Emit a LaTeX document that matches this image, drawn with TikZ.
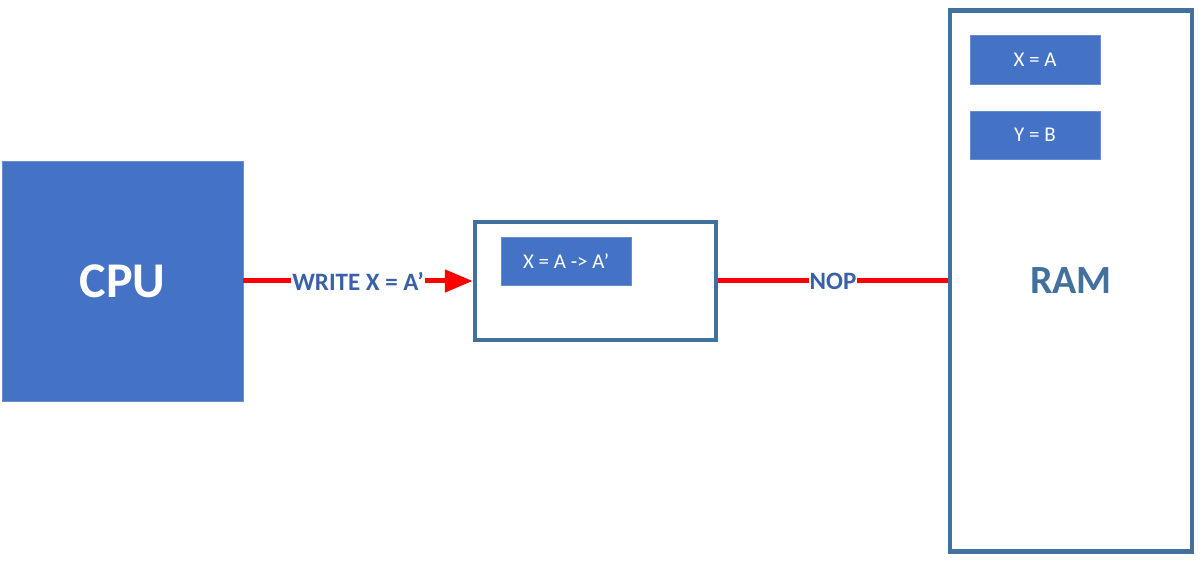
\documentclass[tikz,border=0pt]{standalone}
\usepackage{fontspec}
\setmainfont{Carlito}
\usetikzlibrary{arrows.meta}
\definecolor{boxblue}{HTML}{4472C4}
\definecolor{edgeblue}{HTML}{41719C}
\definecolor{linered}{HTML}{FF0000}

\begin{document}
\begin{tikzpicture}[x=1pt, y=-1pt,
  filled/.style={fill=boxblue, draw=boxblue!80!white, line width=0.8pt, text=white, inner sep=0pt},
  frame/.style={draw=edgeblue, line width=4.5pt, inner sep=0pt},
  bus/.style={draw=linered, line width=5pt},
  buslabel/.style={fill=white, text=boxblue!85!black, inner sep=1pt, font=\fontsize{25}{27}\selectfont\bfseries}]
 \useasboundingbox (0, 0) rectangle (1200, 561);
 \draw (122.5, 281) node[filled, minimum width=241pt, minimum height=240pt, font=\fontsize{50}{54}\selectfont\bfseries] (cpu) {CPU};
 \draw (595.5, 281) node[frame, minimum width=241pt, minimum height=118pt] (cache) {};
 \draw (566, 261) node[filled, minimum width=130pt, minimum height=48pt, font=\fontsize{21}{23}\selectfont] (cacheval) {X = A -> A’};
 \draw (1071, 281) node[frame, minimum width=242pt, minimum height=541pt] (ram) {};
 \draw (1071, 281) node[text=edgeblue, font=\fontsize{40}{44}\selectfont\bfseries] (ramlabel) {RAM};
 \draw (1035, 59.5) node[filled, minimum width=130pt, minimum height=49pt, font=\fontsize{21}{23}\selectfont] (xval) {X = A};
 \draw (1035, 135) node[filled, minimum width=130pt, minimum height=48pt, font=\fontsize{21}{23}\selectfont] (yval) {Y = B};

 \draw[bus, -{Triangle[length=28pt, width=22pt]}] (cpu.east) -- node[buslabel] {WRITE X = A’} (cache.west);
 \draw[bus] (cache.east) -- node[buslabel] {NOP} (ram.west);
\end{tikzpicture}
\end{document}
